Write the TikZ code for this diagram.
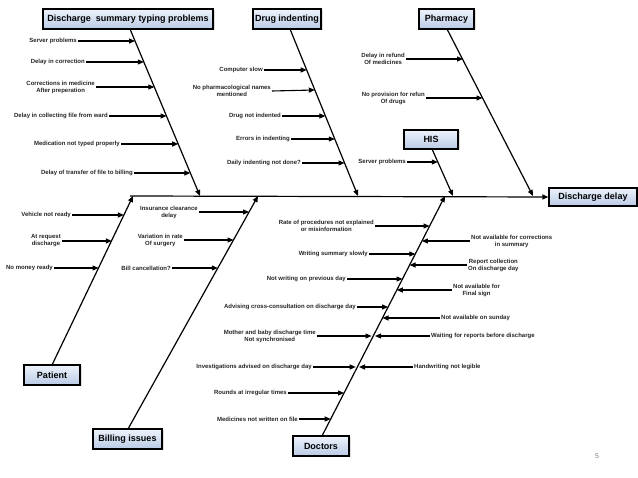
\documentclass[tikz,border=0pt]{standalone}
\usepackage{fontspec}
\setmainfont{Liberation Sans}
\usetikzlibrary{arrows.meta,shadows}
\definecolor{boxtop}{HTML}{EEF3FB}
\definecolor{boxbot}{HTML}{B9CAE6}
\begin{document}
\begin{tikzpicture}[x=1pt,y=-1pt,
  hbox/.style={draw=black,line width=1.3pt,top color=boxtop,bottom color=boxbot,font=\fontsize{9}{10}\selectfont\bfseries,inner sep=0pt,drop shadow={opacity=0.25,shadow xshift=1.5pt,shadow yshift=-1.5pt}},
  lab/.style={font=\fontsize{6}{7}\selectfont\bfseries,align=center,inner sep=1pt,text=black!85},
  bone/.style={line width=1.2pt,-{Triangle[length=6pt,width=5pt]}},
  arr/.style={line width=1.1pt,-{Triangle[length=6pt,width=5pt]}}]
\useasboundingbox (0,0) rectangle (638,478);
\fill[white] (0,0) rectangle (638,478);
% boxes
\node[hbox,minimum width=170,minimum height=20] (dstp) at (128,19) {Discharge\ \ summary typing problems};
\node[hbox,minimum width=68,minimum height=20] (drug) at (287,19) {Drug indenting};
\node[hbox,minimum width=55,minimum height=20] (pharm) at (446.5,19) {Pharmacy};
\node[hbox,minimum width=54,minimum height=19] (his) at (431,139.5) {HIS};
\node[hbox,minimum width=88,minimum height=18] (dd) at (593,197) {Discharge delay};
\node[hbox,minimum width=56,minimum height=20] (pat) at (52,375) {Patient};
\node[hbox,minimum width=69,minimum height=20] (bill) at (127.5,439) {Billing issues};
\node[hbox,minimum width=56,minimum height=20] (doc) at (321,446) {Doctors};
\node[text=gray,font=\fontsize{7}{8}\selectfont] (pg) at (597,456) {5};
% spine
\coordinate (s0) at (130,196);
\draw[bone] (s0) -- (dd.west);
% bones
\coordinate (b1) at (200,196); \draw[bone] (130,29) -- (b1);
\coordinate (b2) at (358,196); \draw[bone] (290,29) -- (b2);
\coordinate (b3) at (533,196); \draw[bone] (447,29) -- (b3);
\coordinate (b4) at (453,196); \draw[bone] (432,149) -- (b4);
\coordinate (b5) at (133,196); \draw[bone] (52,365) -- (b5);
\coordinate (b6) at (258,196); \draw[bone] (128,429) -- (b6);
\coordinate (b7) at (445,196); \draw[bone] (322,436) -- (b7);
% DSTP causes
\node[lab,anchor=east] (d1) at (78,41) {Server problems}; \draw[arr] (d1.east) -- (135,41);
\node[lab,anchor=east] (d2) at (86,62) {Delay in correction}; \draw[arr] (d2.east) -- (143.8,62);
\node[lab,anchor=east] (d3) at (96,87) {Corrections in medicine\\After preperation}; \draw[arr] (d3.east) -- (154.3,87);
\node[lab,anchor=east] (d4) at (109,116) {Delay in collecting file from ward}; \draw[arr] (d4.east) -- (166.5,116);
\node[lab,anchor=east] (d5) at (121,144) {Medication not typed properly}; \draw[arr] (d5.east) -- (178.2,144);
\node[lab,anchor=east] (d6) at (134,173) {Delay of transfer of file to billing}; \draw[arr] (d6.east) -- (190.4,173);
% Drug indenting
\node[lab,anchor=east] (g1) at (264,70) {Computer slow}; \draw[arr] (g1.east) -- (306.7,70);
\node[lab,anchor=east] (g2) at (272,91) {No pharmacological names\\mentioned}; \draw[arr] (g2.east) -- (314.8,90);
\node[lab,anchor=east] (g3) at (282,116) {Drug not indented}; \draw[arr] (g3.east) -- (325.4,116);
\node[lab,anchor=east] (g4) at (291,139) {Errors in indenting}; \draw[arr] (g4.east) -- (334.8,139);
\node[lab,anchor=east] (g5) at (302,163) {Daily indenting not done?}; \draw[arr] (g5.east) -- (344.5,163);
% Pharmacy
\node[lab,anchor=east] (p1) at (406,59) {Delay in refund\\Of medicines}; \draw[arr] (p1.east) -- (463,59);
\node[lab,anchor=east] (p2) at (426,98) {No provision for refun\\Of drugs}; \draw[arr] (p2.east) -- (482.5,98);
% HIS
\node[lab,anchor=east] (h1) at (407,162) {Server problems}; \draw[arr] (h1.east) -- (437.8,162);
% Patient
\node[lab,anchor=east] (t1) at (72,215) {Vehicle not ready}; \draw[arr] (t1.east) -- (123.9,215);
\node[lab,anchor=east] (t2) at (62,241) {At request\\discharge}; \draw[arr] (t2.east) -- (111.9,241);
\node[lab,anchor=east] (t3) at (54,268) {No money ready}; \draw[arr] (t3.east) -- (98.5,268);
% Billing
\node[lab,anchor=east] (i1) at (199,212) {Insurance clearance\\delay}; \draw[arr] (i1.east) -- (249.1,212);
\node[lab,anchor=east] (i2) at (184,240) {Variation in rate\\Of surgery}; \draw[arr] (i2.east) -- (233.5,240);
\node[lab,anchor=east] (i3) at (172,268) {Bill cancellation?}; \draw[arr] (i3.east) -- (217.8,268);
% Doctors left
\node[lab,anchor=east] (l1) at (375,226) {Rate of procedures not explained\\or misinformation}; \draw[arr] (l1.east) -- (429.6,226);
\node[lab,anchor=east] (l2) at (369,254) {Writing summary slowly}; \draw[arr] (l2.east) -- (415.3,254);
\node[lab,anchor=east] (l3) at (347,279) {Not writing on previous day}; \draw[arr] (l3.east) -- (402.5,279);
\node[lab,anchor=east] (l4) at (357,307) {Advising cross-consultation on discharge day}; \draw[arr] (l4.east) -- (388.1,307);
\node[lab,anchor=east] (l5) at (317,336) {Mother and baby discharge time\\Not synchronised}; \draw[arr] (l5.east) -- (371.5,336);
\node[lab,anchor=east] (l6) at (313,367) {Investigations advised on discharge day}; \draw[arr] (l6.east) -- (355.7,367);
\node[lab,anchor=east] (l7) at (288,393) {Rounds at irregular times}; \draw[arr] (l7.east) -- (344,393);
\node[lab,anchor=east] (l8) at (299,419) {Medicines not written on file}; \draw[arr] (l8.east) -- (330.7,419);
% Doctors right
\node[lab,anchor=west] (r1) at (470,241) {Not available for corrections\\in summary}; \draw[arr] (r1.west) -- (421.9,241);
\node[lab,anchor=west] (r2) at (467,265) {Report collection\\On discharge day}; \draw[arr] (r2.west) -- (409.6,265);
\node[lab,anchor=west] (r3) at (452,290) {Not available for\\Final sign}; \draw[arr] (r3.west) -- (396.8,290);
\node[lab,anchor=west] (r4) at (440,318) {Not available on sunday}; \draw[arr] (r4.west) -- (382.5,318);
\node[lab,anchor=west] (r5) at (430,336) {Waiting for reports before discharge}; \draw[arr] (r5.west) -- (375,336);
\node[lab,anchor=west] (r6) at (413,367) {Handwriting not legible}; \draw[arr] (r6.west) -- (359,367);
\end{tikzpicture}
\end{document}
